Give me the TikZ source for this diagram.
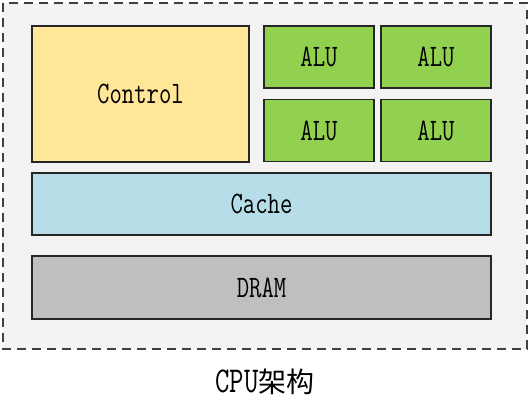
\documentclass[tikz,border=0pt]{standalone}
\usepackage{fontspec}
\newfontfamily\cjk{Noto Sans CJK SC}
\definecolor{cpubg}{HTML}{F2F2F2}
\definecolor{ctrlfill}{HTML}{FFE699}
\definecolor{alufill}{HTML}{92D050}
\definecolor{cachefill}{HTML}{B7DEE8}
\definecolor{dramfill}{HTML}{BFBFBF}
\newcommand{\tallword}[1]{\scalebox{1}[1.3]{#1}}
\begin{document}
\begin{tikzpicture}[x=1pt,y=-1pt,
        unit/.style={draw=black!85, line width=1.2pt, inner sep=0pt,
                font=\fontsize{24}{28}\selectfont\ttfamily}]
        \useasboundingbox (0,0) rectangle (529,414);
        \filldraw[cpubg, draw=black!75, line width=1.2pt, dash pattern=on 9pt off 6pt] (3,3) rectangle (527,349);
        \node[unit, fill=ctrlfill, minimum width=217pt, minimum height=136pt] (ctrl) at (140.5,94) {\tallword{Control}};
        \node[unit, fill=alufill, minimum width=110pt, minimum height=62pt] (alu1) at (319,57) {\tallword{ALU}};
        \node[unit, fill=alufill, minimum width=110pt, minimum height=62pt] (alu2) at (436,57) {\tallword{ALU}};
        \node[unit, fill=alufill, minimum width=110pt, minimum height=62pt] (alu3) at (319,130.5) {\tallword{ALU}};
        \node[unit, fill=alufill, minimum width=110pt, minimum height=62pt] (alu4) at (436,130.5) {\tallword{ALU}};
        \node[unit, fill=cachefill, minimum width=459pt, minimum height=62pt] (cache) at (261.5,204) {\tallword{Cache}};
        \node[unit, fill=dramfill, minimum width=459pt, minimum height=63pt] (dram) at (261.5,287.5) {\tallword{DRAM}};
        \node[font=\fontsize{28}{32}\selectfont] (title) at (265,382) {\tallword{\ttfamily CPU}\cjk 架构};
\end{tikzpicture}
\end{document}
